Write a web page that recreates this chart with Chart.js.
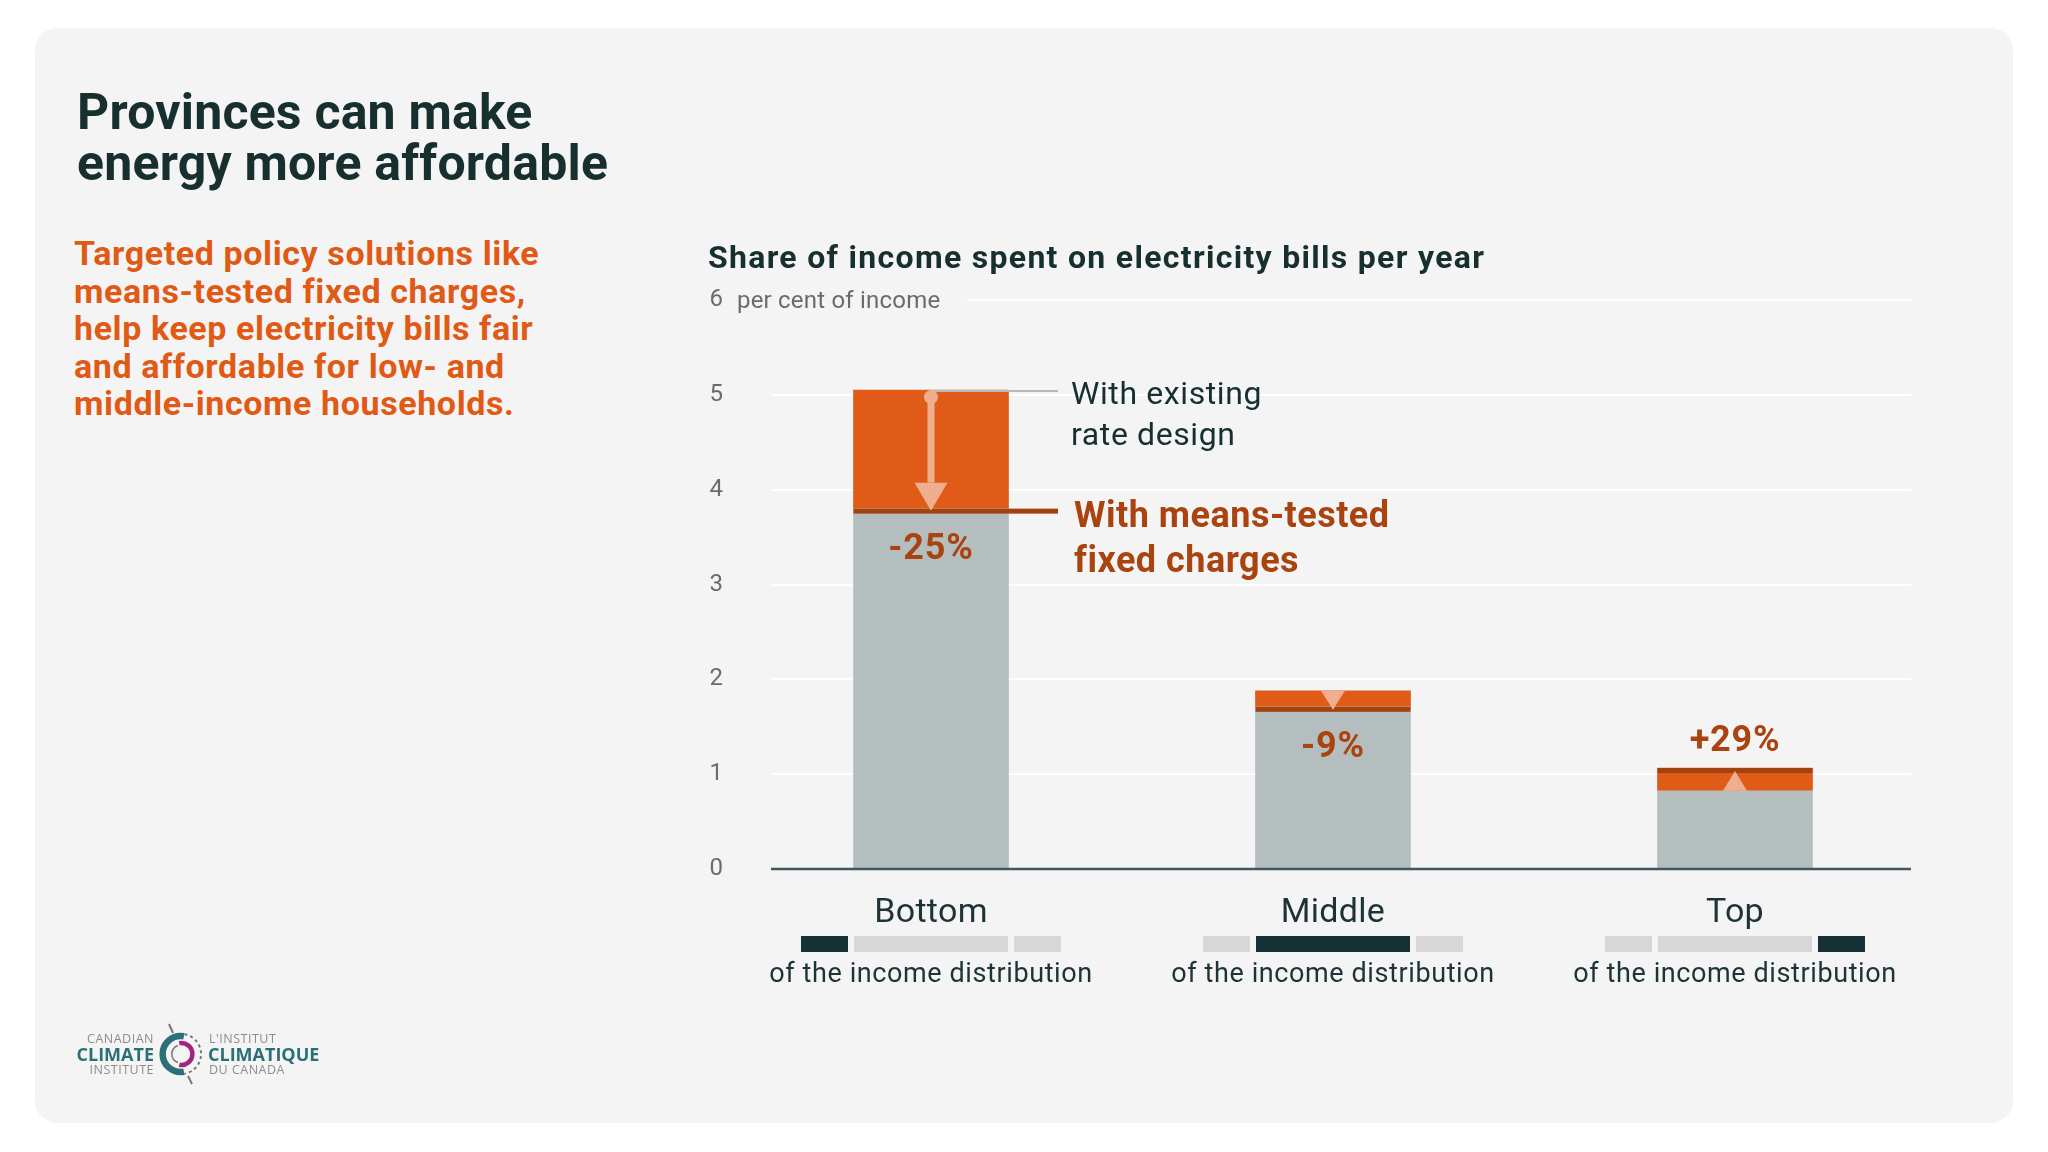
<!DOCTYPE html>
<html>
<head>
<meta charset="utf-8">
<script src="https://cdn.jsdelivr.net/npm/chart.js@4.4.0/dist/chart.umd.min.js"></script>
<style>
  html, body { margin: 0; padding: 0; background: #ffffff; }
  body { width: 2048px; height: 1152px; position: relative; overflow: hidden; font-family: Roboto, sans-serif; }
  .panel { position: absolute; left: 35px; top: 28px; width: 1978px; height: 1095px; background: #f4f4f4; border-radius: 22px; }
  h1 { position: absolute; left: 77px; top: 87px; margin: 0; font-size: 50px; line-height: 51px; font-weight: 700; color: #17302f; letter-spacing: 0.2px; }
  .sub { position: absolute; left: 74px; top: 235px; margin: 0; font-size: 34px; line-height: 37.5px; font-weight: 700; color: #e05a16; letter-spacing: 0.6px; }
  #chart { position: absolute; left: 0; top: 0; }
  .logo { position: absolute; left: 60px; top: 1015px; }
</style>
</head>
<body>
<div class="panel"></div>
<h1>Provinces can make<br>energy more affordable</h1>
<p class="sub">Targeted policy solutions like<br>means-tested fixed charges,<br>help keep electricity bills fair<br>and affordable for low- and<br>middle-income households.</p>
<canvas id="chart" width="2048" height="1152"></canvas>
<svg class="logo" width="300" height="80" viewBox="0 0 300 80">
  <g font-family="Open Sans, sans-serif">
    <text x="94" y="28" text-anchor="end" font-size="12.5" fill="#8c8c8c" letter-spacing="0.5">CANADIAN</text>
    <text x="94" y="46" text-anchor="end" font-size="18" font-weight="700" fill="#2b6f78">CLIMATE</text>
    <text x="94" y="59" text-anchor="end" font-size="12.5" fill="#8c8c8c" letter-spacing="0.5">INSTITUTE</text>
    <text x="149" y="28" font-size="12.5" fill="#8c8c8c" letter-spacing="0.5">L'INSTITUT</text>
    <text x="148" y="46" font-size="18" font-weight="700" fill="#2b6f78">CLIMATIQUE</text>
    <text x="149" y="59" font-size="12.5" fill="#8c8c8c" letter-spacing="0.5">DU CANADA</text>
  </g>
  <path d="M123.9 21.3 A18 18 0 1 0 123.9 56.7" fill="none" stroke="#2b6f78" stroke-width="6.5"/>
  <path d="M124.5 19.3 A20 20 0 0 1 124.5 58.7" fill="none" stroke="#777" stroke-width="2" stroke-dasharray="3 3"/>
  <path d="M119.3 28.2 A11 11 0 1 1 119.3 49.8" fill="none" stroke="#a3237f" stroke-width="4.5"/>
  <path d="M117.9 30.5 A9 9 0 0 0 117.9 47.5" fill="none" stroke="#777" stroke-width="1.5"/>
  <line x1="109" y1="9" x2="113" y2="18" stroke="#777" stroke-width="2"/>
  <line x1="128" y1="61" x2="132" y2="69" stroke="#777" stroke-width="2"/>
</svg>

<script>
// data
const categories = ['Bottom', 'Middle', 'Top'];
const existingRate = [5.05, 1.88, 0.825];
const meansTested = [3.80, 1.71, 1.065];
const changeLabels = ['-25%', '-9%', '+29%'];
const yTicks = [0, 1, 2, 3, 4, 5, 6];
const highlightBand = [0, 1, 2];

const GREY = '#b5bebe';
const ORANGE = '#df5b17';
const DARK = '#a4420f';
const ARROW = '#efae8d';
const INK = '#17302f';

const GRID_LEFT = 771;
const GRID_RIGHT = 1911;
const LEADER_END = 1058;

const lowerPart = categories.map((c, i) => Math.min(existingRate[i], meansTested[i]));
const changePart = categories.map((c, i) => [Math.min(existingRate[i], meansTested[i]), Math.max(existingRate[i], meansTested[i])]);

function drawArrow(ctx, cx, yFrom, yTo) {
    const dir = Math.sign(yTo - yFrom);
    ctx.fillStyle = ARROW;
    if (Math.abs(yTo - yFrom) > 60) {
        // long change: dot, shaft and head
        const headH = 28, headW = 33;
        const start = yFrom + 7 * dir;
        const headBase = yTo + 2 * dir - headH * dir;
        ctx.beginPath();
        ctx.arc(cx, start, 7, 0, Math.PI * 2);
        ctx.fill();
        ctx.fillRect(cx - 3.5, Math.min(start, headBase), 7, Math.abs(headBase - start));
        ctx.beginPath();
        ctx.moveTo(cx - headW / 2, headBase);
        ctx.lineTo(cx + headW / 2, headBase);
        ctx.lineTo(cx, yTo + 2 * dir);
        ctx.closePath();
        ctx.fill();
    } else {
        const w = 24;
        ctx.beginPath();
        ctx.moveTo(cx - w / 2, yFrom);
        ctx.lineTo(cx + w / 2, yFrom);
        ctx.lineTo(cx, yTo + 3);
        ctx.closePath();
        ctx.fill();
    }
}

const decor = {
    id: 'decor',
    beforeDatasetsDraw(chart) {
        const { ctx } = chart;
        const y = chart.scales.y;
        ctx.save();
        // unit label next to the top tick
        ctx.font = '400 24px Roboto';
        ctx.letterSpacing = '0.2px';
        ctx.fillStyle = '#6b6b6b';
        ctx.textBaseline = 'middle';
        const topY = y.getPixelForValue(yTicks[yTicks.length - 1]);
        const unit = 'per cent of income';
        ctx.fillText(unit, 737, topY + 2);
        const topStart = 737 + ctx.measureText(unit).width + 27;

        ctx.strokeStyle = '#ffffff';
        ctx.lineWidth = 2;
        yTicks.forEach(v => {
            if (v === 0) return;
            const py = Math.round(y.getPixelForValue(v));
            const x0 = v === yTicks[yTicks.length - 1] ? topStart : GRID_LEFT;
            ctx.beginPath();
            ctx.moveTo(x0, py);
            ctx.lineTo(GRID_RIGHT, py);
            ctx.stroke();
        });

        // chart heading
        ctx.textBaseline = 'alphabetic';
        ctx.font = '700 32px Roboto';
        ctx.letterSpacing = '1.3px';
        ctx.fillStyle = INK;
        ctx.fillText('Share of income spent on electricity bills per year', 708, 268);
        ctx.restore();
    },
    afterDatasetsDraw(chart) {
        const { ctx } = chart;
        const y = chart.scales.y;
        const bars = chart.getDatasetMeta(1).data;
        const y0 = y.getPixelForValue(0);
        ctx.save();

        ctx.strokeStyle = '#3e585c';
        ctx.lineWidth = 2.5;
        ctx.beginPath();
        ctx.moveTo(GRID_LEFT, y0);
        ctx.lineTo(GRID_RIGHT, y0);
        ctx.stroke();

        categories.forEach((c, i) => {
            const bar = bars[i];
            const cx = bar.x;
            const half = bar.width / 2;
            const yOld = y.getPixelForValue(existingRate[i]);
            const yNew = y.getPixelForValue(meansTested[i]);
            const yTop = Math.min(yOld, yNew);

            if (i === 0) {
                ctx.strokeStyle = '#b8b8b8';
                ctx.lineWidth = 2;
                ctx.beginPath();
                ctx.moveTo(cx, yOld + 1);
                ctx.lineTo(LEADER_END, yOld + 1);
                ctx.stroke();
            }

            ctx.fillStyle = DARK;
            const lineEnd = i === 0 ? LEADER_END : cx + half;
            ctx.fillRect(cx - half, yNew, lineEnd - (cx - half), 5);

            drawArrow(ctx, cx, yOld, yNew);

            ctx.textAlign = 'center';
            ctx.textBaseline = 'alphabetic';
            ctx.fillStyle = '#a9430f';
            ctx.font = '700 36px Roboto';
            ctx.letterSpacing = '0.8px';
            if (meansTested[i] < existingRate[i]) {
                ctx.fillText(changeLabels[i], cx, yNew + 50);
            } else {
                ctx.fillText(changeLabels[i], cx, yTop - 17);
            }

            ctx.fillStyle = '#1d3335';
            ctx.font = '400 34px Roboto';
            ctx.letterSpacing = '0.3px';
            ctx.fillText(c, cx, y0 + 53);

            // income distribution key
            const segs = [[-130, -83], [-77, 77], [83, 130]];
            segs.forEach((s, k) => {
                ctx.fillStyle = k === highlightBand[i] ? '#163133' : '#d7d7d7';
                ctx.fillRect(cx + s[0], y0 + 67, s[1] - s[0], 16);
            });

            ctx.fillStyle = '#1d3335';
            ctx.font = '400 27px Roboto';
            ctx.letterSpacing = '0.6px';
            ctx.fillText('of the income distribution', cx, y0 + 113);

            if (i === 0) {
                ctx.textAlign = 'left';
                ctx.fillStyle = INK;
                ctx.font = '400 32px Roboto';
                ctx.letterSpacing = '0.6px';
                ctx.fillText('With existing', LEADER_END + 13, yOld + 14);
                ctx.fillText('rate design', LEADER_END + 13, yOld + 55);
                ctx.fillStyle = '#a9430f';
                ctx.font = '700 36px Roboto';
                ctx.letterSpacing = '0.5px';
                ctx.fillText('With means-tested', LEADER_END + 16, yNew + 18);
                ctx.fillText('fixed charges', LEADER_END + 16, yNew + 63);
            }
        });
        ctx.restore();
    }
};

const ctx = document.getElementById('chart').getContext('2d');
new Chart(ctx, {
    type: 'bar',
    data: {
        labels: categories,
        datasets: [
            { label: 'Means-tested', data: lowerPart, backgroundColor: GREY, grouped: false, barThickness: 155 },
            { label: 'Change', data: changePart, backgroundColor: ORANGE, grouped: false, barThickness: 155 }
        ]
    },
    options: {
        responsive: false,
        animation: false,
        layout: { padding: { left: 690, right: 112, top: 300, bottom: 283 } },
        plugins: {
            legend: { display: false },
            tooltip: { enabled: false }
        },
        scales: {
            x: { display: false, grid: { display: false } },
            y: {
                min: 0,
                max: 6,
                afterFit: s => { s.width = 40; },
                afterBuildTicks: s => { s.ticks = yTicks.map(v => ({ value: v })); },
                border: { display: false },
                grid: { display: false, drawTicks: false },
                ticks: { padding: 7, color: '#6b6b6b', font: { family: 'Roboto', size: 24 } }
            }
        }
    },
    plugins: [decor]
});
</script>
</body>
</html>
